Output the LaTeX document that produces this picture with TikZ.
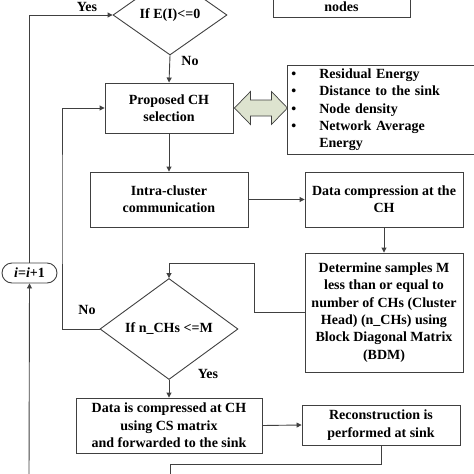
\documentclass[tikz,border=0pt]{standalone}
\usepackage{fontspec}
\setmainfont{Liberation Serif}
\usepackage{xcolor}
\usetikzlibrary{arrows.meta,calc,positioning,shapes.geometric}
\definecolor{linegray}{HTML}{404040}
\definecolor{arrowfill}{HTML}{DDE3CF}

\begin{document}
\begin{tikzpicture}[x=1pt, y=-1pt,
  font=\fontsize{14}{17.3}\selectfont\bfseries,
  box/.style={draw=linegray, line width=0.9pt, align=center, inner sep=2pt},
  dec/.style={diamond, draw=linegray, line width=0.9pt, inner sep=0pt},
  arr/.style={draw=linegray, line width=0.9pt, -{Triangle[length=5pt,width=5pt]}},
  ln/.style={draw=linegray, line width=0.9pt}]
\useasboundingbox (0,0) rectangle (474,474);
\clip (0,0) rectangle (474,474);
% nodes
\node[dec, minimum width=114pt, minimum height=80pt] (dA) at (170,15) {If E(I)<=0};
\node[box, anchor=south, minimum width=137pt, text height=40pt, text depth=4pt] (init) at (341.5,18) {nodes};
\node[box, minimum width=128pt, minimum height=50pt] (ch) at (169,108) {Proposed CH\\selection};
\node[box, anchor=north west, text width=200pt, minimum height=86pt, align=left,
      inner xsep=4pt, inner ysep=1pt] (crit) at (287,65)
  {\begin{tabular}{@{}l@{\hspace{23pt}}l@{}}
   \textbullet & Residual Energy\\
   \textbullet & Distance to the sink\\
   \textbullet & Node density\\
   \textbullet & Network Average\\
               & Energy
   \end{tabular}};
\node[box, minimum width=158pt, minimum height=55pt] (intra) at (169,199.5) {Intra-cluster\\communication};
\node[box, minimum width=158pt, minimum height=55pt] (comp) at (384,199.5) {Data compression at the\\CH};
\node[box, minimum width=158pt, minimum height=119pt] (bdm) at (384,312.5)
  {Determine samples M\\less than or equal to\\number of CHs (Cluster\\Head) (n\_CHs) using\\Block Diagonal Matrix\\(BDM)};
\node[dec, minimum width=138pt, minimum height=101pt] (dB) at (169,329) {If n\_CHs <=M};
\node[box, minimum width=186pt, minimum height=55pt] (send) at (169,425.5)
  {Data is compressed at CH\\using CS matrix\\and forwarded to the sink};
\node[box, minimum width=158pt, minimum height=40pt] (rec) at (381,425) {Reconstruction is\\performed at sink};
\node[box, rounded corners=10pt, minimum width=55pt, minimum height=20pt] (inc) at (29.5,273)
  {\textit{i}=\textit{i}+1};
\coordinate (bend) at (254,263);
\coordinate (noloop) at (62,200);
\coordinate (loopin) at (29,480);
\coordinate (exitB) at (170,480);
% connectors
\draw[arr] (dA.south) -- (ch.north);
\draw[arr] (ch.south) -- (intra.north);
\draw[arr] (intra.east) -- (comp.west);
\draw[arr] (comp.south) -- (bdm.north);
\draw[arr] (bdm.west) -| (bend) -| (dB.north);
\draw[arr] (dB.west) -| (noloop) |- (ch.west);
\draw[arr] (dB.south) -- (send.north);
\draw[arr] (send.east) -- (rec.west);
\draw[ln] (rec.south) -- ++(0,19) -| (exitB);
\draw[arr] (loopin) -- (inc.south);
\draw[arr] (inc.north) |- (dA.west);
% double arrow
\draw[draw=linegray, line width=0.7pt, fill=arrowfill] ($(ch.east)+(1,0)$) -- ++(16,-16.5) -- ++(0,8.5)
  -- ++(21,0) -- ++(0,-8.5) -- ++(16,16.5) -- ++(-16,16.5) -- ++(0,-8.5) -- ++(-21,0) -- ++(0,8.5) -- cycle;
% labels
\node (yesA) at (87,7) {Yes};
\node (noA) at (190,61) {No};
\node (noB) at (87,310) {No};
\node (yesB) at (208,374) {Yes};
\end{tikzpicture}
\end{document}
